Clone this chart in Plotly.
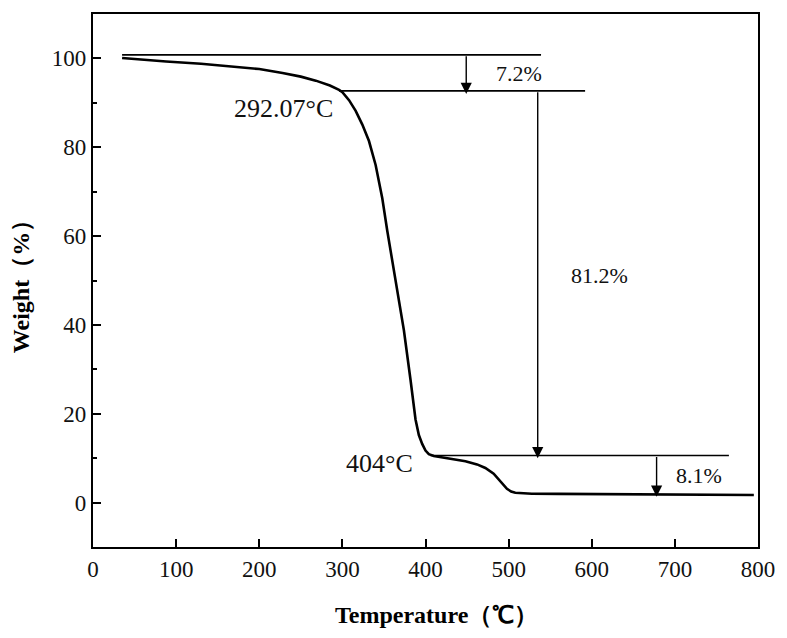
import plotly.graph_objects as go

# TGA curve
temperature = [35, 60, 88, 130, 168, 200, 228, 250, 268, 285, 296, 300, 308, 316, 324, 332,
               340, 344, 348, 354, 364, 374, 382, 388, 392, 396, 400, 404, 410, 416, 432,
               448, 462, 472, 482, 488, 494, 498, 503, 508, 518, 528, 560, 600, 648, 700, 750, 795]
weight = [100.1, 99.7, 99.3, 98.8, 98.2, 97.6, 96.7, 95.9, 95.0, 93.9, 92.9, 92.4, 90.6, 88.2,
          85.1, 81.4, 76.0, 72.4, 68.5, 61.2, 50.0, 38.8, 27.6, 18.7, 15.2, 13.2, 11.7, 10.9,
          10.5, 10.3, 9.9, 9.3, 8.6, 7.8, 6.5, 5.2, 3.9, 3.1, 2.5, 2.2, 2.1, 2.0, 1.95, 1.9,
          1.85, 1.8, 1.75, 1.7]

# Reference level lines: (x_start, x_end, y)
level_x0 = [35, 296, 406]
level_x1 = [539, 592, 765]
level_y = [100.8, 92.7, 10.6]

# Arrows: x, y_from, y_to
arrow_x = [449, 535, 678]
arrow_y0 = [100.8, 92.7, 10.6]
arrow_y1 = [92.0, 10.0, 1.3]

# Labels
label_text = ["292.07°C", "404°C", "7.2%", "81.2%", "8.1%"]
label_x = [229, 345, 513, 609, 729]
label_y = [88.8, 8.8, 96.7, 51.2, 6.2]
label_size = [26, 26, 22, 22, 22]

x_ticks = [0, 100, 200, 300, 400, 500, 600, 700, 800]
y_ticks = [0, 20, 40, 60, 80, 100]

fig = go.Figure()
fig.add_trace(go.Scatter(x=temperature, y=weight, mode="lines",
                         line=dict(color="black", width=2.6), showlegend=False))

for x0, x1, y in zip(level_x0, level_x1, level_y):
    fig.add_trace(go.Scatter(x=[x0, x1], y=[y, y], mode="lines",
                             line=dict(color="black", width=1.6), showlegend=False))

for xa, y0, y1 in zip(arrow_x, arrow_y0, arrow_y1):
    fig.add_annotation(x=xa, y=y1, ax=xa, ay=y0, xref="x", yref="y", axref="x", ayref="y",
                       text="", showarrow=True, arrowhead=2, arrowsize=1.6, arrowwidth=1.4,
                       arrowcolor="black", standoff=0, startstandoff=0)

for t, xx, yy, s in zip(label_text, label_x, label_y, label_size):
    fig.add_annotation(x=xx, y=yy, xref="x", yref="y", text=t, showarrow=False,
                       font=dict(family="Liberation Serif", size=s, color="#111"))

# x-axis title (placed slightly right of centre, as in the original)
fig.add_annotation(x=0.517, y=-0.127, xref="paper", yref="paper", text="<b>Temperature（℃）</b>",
                   showarrow=False, xanchor="center", yanchor="middle",
                   font=dict(family="Liberation Serif", size=24, color="black"))

fig.update_layout(
    width=787, height=638,
    margin=dict(l=93, r=27, t=12, b=91),
    paper_bgcolor="white", plot_bgcolor="white",
    font=dict(family="Liberation Serif", color="black"),
)
fig.update_xaxes(range=[0, 800], tickvals=x_ticks, ticks="inside", ticklen=8, tickwidth=2,
                 tickcolor="black", showline=True, linewidth=2.2, linecolor="black", mirror=True,
                 showgrid=False, zeroline=False,
                 tickfont=dict(family="Liberation Serif", size=23, color="#111"))
fig.update_yaxes(range=[-10, 110], tickvals=y_ticks, ticks="inside", ticklen=8, tickwidth=2,
                 tickcolor="black", showline=True, linewidth=2.2, linecolor="black", mirror=True,
                 showgrid=False, zeroline=False,
                 minor=dict(dtick=10, tick0=0, ticks="inside", ticklen=4, tickwidth=2,
                            tickcolor="black", showgrid=False),
                 tickfont=dict(family="Liberation Serif", size=23, color="#111"),
                 title=dict(text="<b>Weight（%）</b>",
                            font=dict(family="Liberation Serif", size=24, color="black"),
                            standoff=15))

fig.write_html("out.html")
